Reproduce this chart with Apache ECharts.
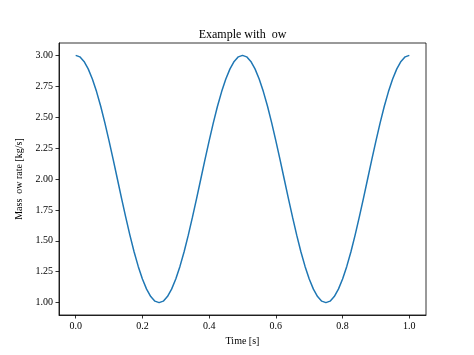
<!DOCTYPE html>
<html><head><meta charset="utf-8">
<script src="https://cdn.jsdelivr.net/npm/echarts@6/dist/echarts.min.js"></script>
<style>html,body{margin:0;padding:0;background:#fff}#c{width:474px;height:355px}</style>
</head><body><div id="c"></div>
<script>
const titleText = "Example with  ow";
const xLabel = "Time [s]";
const yLabel = "Mass  ow rate [kg/s]";
const times = [0,0.0125,0.025,0.0375,0.05,0.0625,0.075,0.0875,0.1,0.1125,0.125,0.1375,0.15,0.1625,0.175,0.1875,0.2,0.2125,0.225,0.2375,0.25,0.2625,0.275,0.2875,0.3,0.3125,0.325,0.3375,0.35,0.3625,0.375,0.3875,0.4,0.4125,0.425,0.4375,0.45,0.4625,0.475,0.4875,0.5,0.5125,0.525,0.5375,0.55,0.5625,0.575,0.5875,0.6,0.6125,0.625,0.6375,0.65,0.6625,0.675,0.6875,0.7,0.7125,0.725,0.7375,0.75,0.7625,0.775,0.7875,0.8,0.8125,0.825,0.8375,0.85,0.8625,0.875,0.8875,0.9,0.9125,0.925,0.9375,0.95,0.9625,0.975,0.9875,1.0];
const flow = [3.0,2.988,2.951,2.891,2.809,2.707,2.588,2.454,2.309,2.156,2.0,1.844,1.691,1.546,1.412,1.293,1.191,1.109,1.049,1.012,1.0,1.012,1.049,1.109,1.191,1.293,1.412,1.546,1.691,1.844,2.0,2.156,2.309,2.454,2.588,2.707,2.809,2.891,2.951,2.988,3.0,2.988,2.951,2.891,2.809,2.707,2.588,2.454,2.309,2.156,2.0,1.844,1.691,1.546,1.412,1.293,1.191,1.109,1.049,1.012,1.0,1.012,1.049,1.109,1.191,1.293,1.412,1.546,1.691,1.844,2.0,2.156,2.309,2.454,2.588,2.707,2.809,2.891,2.951,2.988,3.0];
const xTicks = [0,0.2,0.4,0.6,0.8,1.0];
const yTicks = [1.0,1.25,1.5,1.75,2.0,2.25,2.5,2.75,3.0];

const font = "'Liberation Serif','DejaVu Serif',serif";
const chart = echarts.init(document.getElementById('c'), null, {renderer:'canvas'});
const axisLine = {show:true, onZero:false, lineStyle:{color:'#000', width:0.8}};
chart.setOption({
  animation:false,
  backgroundColor:'#fff',
  title:{text:titleText, left:237.5, textAlign:'center', top:24, textStyle:{fontFamily:font, fontSize:12, fontWeight:'normal', color:'#000'}},
  grid:{left:59, right:48, top:43, bottom:40, show:true, borderColor:'#000', borderWidth:0.8},
  xAxis:{type:'value', min:-0.05, max:1.05,
    name:xLabel, nameLocation:'middle', nameGap:20,
    nameTextStyle:{fontFamily:font, fontSize:10, color:'#000'},
    axisLine:axisLine,
    axisTick:{show:true, length:3.5, inside:false, customValues:xTicks, lineStyle:{color:'#000', width:0.8}},
    axisLabel:{customValues:xTicks, fontFamily:font, fontSize:10, color:'#000', margin:6, formatter:v=>v.toFixed(1)},
    splitLine:{show:false}},
  yAxis:{type:'value', min:0.9, max:3.1,
    name:yLabel, nameLocation:'middle', nameGap:31, nameRotate:90,
    nameTextStyle:{fontFamily:font, fontSize:10, color:'#000'},
    axisLine:axisLine,
    axisTick:{show:true, length:3.5, inside:false, customValues:yTicks, lineStyle:{color:'#000', width:0.8}},
    axisLabel:{customValues:yTicks, fontFamily:font, fontSize:10, color:'#000', margin:6, formatter:v=>v.toFixed(2)},
    splitLine:{show:false}},
  series:[{type:'line', data:times.map((t,i)=>[t,flow[i]]), smooth:false, showSymbol:false,
    lineStyle:{color:'#1f77b4', width:1.5}, itemStyle:{color:'#1f77b4'}}]
});
</script></body></html>
